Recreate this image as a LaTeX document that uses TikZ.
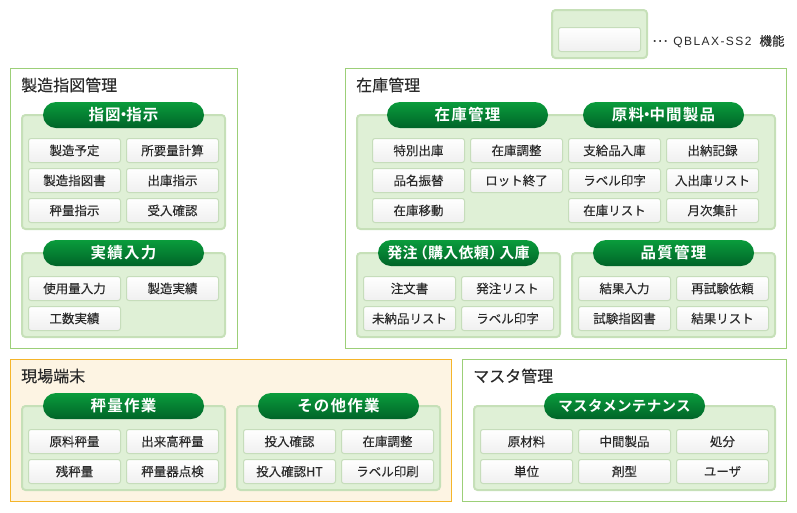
\documentclass[tikz,border=0pt]{standalone}
\usepackage{fontspec}
\setmainfont[FakeBold=0.15]{Noto Sans CJK JP}
\newfontfamily\latinf[LetterSpace=12]{Liberation Sans}
\newfontfamily\wideb[LetterSpace=8]{Noto Sans CJK JP Bold}
\newfontfamily\midb[LetterSpace=2]{Noto Sans CJK JP Bold}
\definecolor{secg}{HTML}{9CCF78}
\definecolor{pang}{HTML}{DFF0D6}
\definecolor{panb}{HTML}{C6E0B8}
\definecolor{btnb}{HTML}{C6DDBB}
\definecolor{cream}{HTML}{FDF4E3}
\definecolor{creamb}{HTML}{F5B52A}
\definecolor{pilltop}{HTML}{0A9C3C}
\definecolor{pillbot}{HTML}{006428}
\definecolor{txt}{HTML}{2A2A2A}
\tikzset{
  x=1pt,y=-1pt,
  secbox/.style={draw=secg,fill=white,line width=1pt,anchor=north west,inner sep=0pt,outer sep=0pt},
  panelbox/.style={draw=panb,fill=pang,line width=2pt,rounded corners=3.5pt,anchor=north west,inner sep=0pt,outer sep=0pt},
  btn/.style={draw=btnb,line width=1pt,rounded corners=2.5pt,top color=white,bottom color=black!6!white,
    minimum width=92pt,minimum height=24pt,inner sep=0pt,font=\fontsize{12.5}{13}\selectfont,text=txt},
  pill/.style={rounded corners=13pt,top color=pilltop,bottom color=pillbot,minimum width=161pt,minimum height=26pt,
    inner sep=0pt,font=\fontsize{15.5}{15.5}\wideb\selectfont,text=white},
  sectitle/.style={anchor=west,inner sep=0pt,font=\fontsize{16}{16}\selectfont,text=txt},
}
\newcommand{\secrect}[6]{\node[secbox,minimum width=#4pt-#2pt,minimum height=#5pt-#3pt,#6] (#1) at (#2,#3) {};}
\newcommand{\panelrect}[5]{\node[panelbox,minimum width=#4pt-#2pt,minimum height=#5pt-#3pt] (#1) at (#2,#3) {};}
\newcommand{\btnat}[4]{\node[btn] (#1) at (#2,#3) {#4};}
\newcommand{\pillat}[4]{\node[pill] (#1) at (#2,#3) {#4};}
\begin{document}
\begin{tikzpicture}
\useasboundingbox (0,0) rectangle (797,512);
% legend
\panelrect{legp}{552}{10}{647}{58}
\node[btn,minimum width=82pt] (legb) at (599.5,39.5) {};
\node[anchor=west,inner sep=0pt,text=txt,font=\fontsize{12.5}{13}\selectfont] (legt) at (653,41.5) {{\latinf\fontsize{12}{13}\selectfont\textbf{···}\kern-1pt{} QBLAX-SS2}\hspace{8pt}機能};
% sections
\secrect{secA}{10.5}{68.5}{237.5}{348.5}{}
\secrect{secB}{345.5}{68.5}{786.5}{348.5}{}
\secrect{secC}{10.5}{359.5}{451.5}{501.5}{draw=creamb,fill=cream}
\secrect{secD}{462.5}{359.5}{786.5}{501.5}{}
\node[sectitle] (tA) at (21,85) {製造指図管理};
\node[sectitle] (tB) at (356,85) {在庫管理};
\node[sectitle] (tC) at (21,376) {現場端末};
\node[sectitle] (tD) at (473,376) {マスタ管理};
% panels
\panelrect{p1}{22}{115}{225}{229}
\panelrect{p2}{22}{253}{225}{337}
\panelrect{p3}{357}{115}{775}{229}
\panelrect{p4}{357}{253}{560}{337}
\panelrect{p5}{572}{253}{775}{337}
\panelrect{p6}{22}{406}{225}{490}
\panelrect{p7}{237}{406}{440}{490}
\panelrect{p8}{474}{406}{775}{490}
% pills
\pillat{q1}{123.5}{115}{指図\kern-5pt・\kern-5pt指示}
\pillat{q2}{123.5}{253}{実績入力}
\pillat{q3a}{467.5}{115}{在庫管理}
\pillat{q3b}{663.5}{115}{原料\kern-5pt・\kern-5pt中間製品}
\pillat{q4}{458.5}{253}{\fontsize{15}{15}\midb 発注\kern-5pt（購入依頼）\kern-5pt入庫}
\pillat{q5}{673.5}{253}{品質管理}
\pillat{q6}{123.5}{406}{秤量作業}
\pillat{q7}{338.5}{406}{その他作業}
\pillat{q8}{624.5}{406}{\fontsize{14.5}{15}\midb マスタメンテナンス}
% section A
\btnat{a1}{74.5}{150.5}{製造予定}
\btnat{a2}{172.5}{150.5}{所要量計算}
\btnat{a3}{74.5}{180.5}{製造指図書}
\btnat{a4}{172.5}{180.5}{出庫指示}
\btnat{a5}{74.5}{210.5}{秤量指示}
\btnat{a6}{172.5}{210.5}{受入確認}
\btnat{a7}{74.5}{288.5}{使用量入力}
\btnat{a8}{172.5}{288.5}{製造実績}
\btnat{a9}{74.5}{318.5}{工数実績}
% section B
\btnat{b1}{418.5}{150.5}{特別出庫}
\btnat{b2}{516.5}{150.5}{在庫調整}
\btnat{b3}{614.5}{150.5}{支給品入庫}
\btnat{b4}{712.5}{150.5}{出納記録}
\btnat{b5}{418.5}{180.5}{品名振替}
\btnat{b6}{516.5}{180.5}{ロット終了}
\btnat{b7}{614.5}{180.5}{ラベル印字}
\btnat{b8}{712.5}{180.5}{入出庫リスト}
\btnat{b9}{418.5}{210.5}{在庫移動}
\btnat{b10}{614.5}{210.5}{在庫リスト}
\btnat{b11}{712.5}{210.5}{月次集計}
\btnat{b12}{409.5}{288.5}{注文書}
\btnat{b13}{507.5}{288.5}{発注リスト}
\btnat{b14}{409.5}{318.5}{未納品リスト}
\btnat{b15}{507.5}{318.5}{ラベル印字}
\btnat{b16}{624.5}{288.5}{結果入力}
\btnat{b17}{722.5}{288.5}{再試験依頼}
\btnat{b18}{624.5}{318.5}{試験指図書}
\btnat{b19}{722.5}{318.5}{結果リスト}
% section C
\btnat{c1}{74.5}{441.5}{原料秤量}
\btnat{c2}{172.5}{441.5}{出来高秤量}
\btnat{c3}{74.5}{471.5}{残秤量}
\btnat{c4}{172.5}{471.5}{秤量器点検}
\btnat{c5}{289.5}{441.5}{投入確認}
\btnat{c6}{387.5}{441.5}{在庫調整}
\btnat{c7}{289.5}{471.5}{投入確認HT}
\btnat{c8}{387.5}{471.5}{ラベル印刷}
% section D
\btnat{d1}{526.5}{441.5}{原材料}
\btnat{d2}{624.5}{441.5}{中間製品}
\btnat{d3}{722.5}{441.5}{処分}
\btnat{d4}{526.5}{471.5}{単位}
\btnat{d5}{624.5}{471.5}{剤型}
\btnat{d6}{722.5}{471.5}{ユーザ}
\end{tikzpicture}
\end{document}
